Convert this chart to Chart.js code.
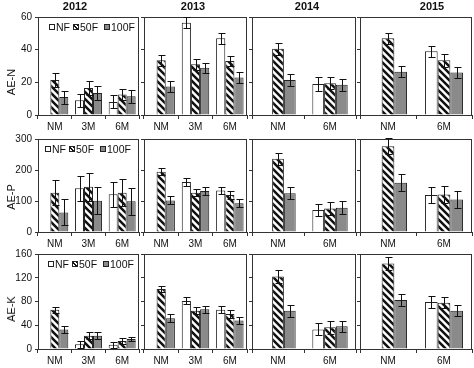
<!DOCTYPE html>
<html>
<head>
<meta charset="utf-8">
<script src="https://cdn.jsdelivr.net/npm/chart.js@4.4.0/dist/chart.umd.min.js"></script>
<style>
  body { margin: 0; background: #fff; width: 474px; height: 368px; position: relative; overflow: hidden;
         font-family: "Liberation Sans", Arial, sans-serif; color: #111; }
  canvas { position: absolute; }
  .yr { position: absolute; top: 0; font-weight: bold; font-size: 11px; transform: translateX(-50%); }
  .yt { position: absolute; font-size: 11px; white-space: nowrap; transform: translate(-50%, -50%) rotate(-90deg); }
  .lg { position: absolute; font-size: 10.5px; line-height: 11px; white-space: nowrap; }
  .sw { display: inline-block; width: 4px; height: 4px; border: 1px solid #222; margin-right: 1px; vertical-align: 1px; }
</style>
</head>
<body>
<script>
const years = ['2012', '2013', '2014', '2015']
const rowNames = ['AE-N', 'AE-P', 'AE-K']
const cats3 = ['NM', '3M', '6M']
const cats2 = ['NM', '6M']
const yearCats = [cats3, cats3, cats2, cats2]
const series = ['NF', '50F', '100F']

// AE-N, one inner list per year
const N_NF   = [[null, 9, 8], [null, 56.5, 47], [null, 19], [null, 39]]
const N_50F  = [[21.5, 16.5, 12.5], [33.5, 31, 33], [40.5, 19.5], [47, 33.5]]
const N_100F = [[11, 13.5, 11.5], [17.5, 29, 23], [21.5, 18.5], [26.5, 26]]
const N_NF_err   = [[0, 4, 4], [0, 3.5, 3.5], [0, 4], [0, 3.5]]
const N_50F_err  = [[4.5, 4.5, 3.5], [3.5, 3.5, 3], [3.5, 3.5], [3.5, 4]]
const N_100F_err = [[4, 4.5, 4], [3.5, 3, 3.5], [3.5, 3.5], [3.5, 3.5]]

// AE-P
const P_NF   = [[null, 141, 122], [null, 161, 134], [null, 71], [null, 119]]
const P_50F  = [[127, 146, 127], [194, 127, 119], [236, 76], [277, 121]]
const P_100F = [[63, 101, 99], [102, 132, 93], [125, 78], [159, 105]]
const P_NF_err   = [[0, 41, 40], [0, 12, 12], [0, 19], [0, 27]]
const P_50F_err  = [[41, 45, 43], [11, 11, 13], [20, 20], [25, 26]]
const P_100F_err = [[42, 43, 43], [13, 12, 13], [19, 21], [28, 27]]

// AE-K
const K_NF   = [[null, 8, 7], [null, 81, 66], [null, 33], [null, 79]]
const K_50F  = [[66, 22.5, 13.5], [101, 64.5, 59], [122, 36.5], [144, 78]]
const K_100F = [[33, 22.5, 17], [52, 67, 48], [64.5, 38.5], [82.5, 64.5]]
const K_NF_err   = [[0, 6, 5], [0, 6, 6], [0, 10], [0, 10]]
const K_50F_err  = [[5.5, 5.5, 5], [5.5, 5.5, 6], [11, 11], [10.5, 9]]
const K_100F_err = [[5.5, 5.5, 4], [6.5, 6, 5.5], [10, 9.5], [10, 9.5]]

const yMax = [60, 300, 160]
const yStep = [20, 100, 40]

const rows = [
  [N_NF, N_50F, N_100F, N_NF_err, N_50F_err, N_100F_err],
  [P_NF, P_50F, P_100F, P_NF_err, P_50F_err, P_100F_err],
  [K_NF, K_50F, K_100F, K_NF_err, K_50F_err, K_100F_err]
]

// panel plot boxes in page pixels
const colL = [38, 144, 252, 360]
const colR = [139, 247, 356, 472]
const rowT = [17, 139, 254]
const rowB = [115, 232, 349]

Chart.defaults.font.family = '"Liberation Sans", Arial, sans-serif'
Chart.defaults.color = '#111'

function hatch() {
  let c = document.createElement('canvas')
  c.width = 7; c.height = 7
  let g = c.getContext('2d')
  g.fillStyle = '#fff'
  g.fillRect(0, 0, 7, 7)
  g.strokeStyle = '#111'
  g.lineWidth = 2.5
  g.beginPath()
  g.moveTo(-2, -2); g.lineTo(9, 9)
  g.moveTo(-2, 5); g.lineTo(2, 9)
  g.moveTo(5, -2); g.lineTo(9, 2)
  g.stroke()
  return g.createPattern(c, 'repeat')
}
const hatchFill = hatch()
const fills = ['#fff', hatchFill, '#8a8a8a']

const frame = {
  id: 'frame',
  beforeDatasetsDraw(chart) {
    let a = chart.chartArea, ctx = chart.ctx
    ctx.save()
    ctx.strokeStyle = '#333'
    ctx.lineWidth = 1
    ctx.strokeRect(Math.round(a.left) + 0.5, Math.round(a.top) + 0.5,
      Math.round(a.right - a.left) - 1, Math.round(a.bottom - a.top))
    ctx.restore()
  }
}

const errorBars = {
  id: 'errorBars',
  afterDatasetsDraw(chart) {
    let ctx = chart.ctx, y = chart.scales.y
    ctx.save()
    ctx.strokeStyle = '#111'
    ctx.lineWidth = 1
    chart.data.datasets.forEach((ds, i) => {
      chart.getDatasetMeta(i).data.forEach((bar, j) => {
        let v = ds.data[j], e = ds.errors[j]
        if (v == null || !e) return
        let x = Math.round(bar.x) + 0.5
        let top = Math.round(y.getPixelForValue(v + e)) + 0.5
        let bot = Math.round(y.getPixelForValue(v - e)) + 0.5
        ctx.beginPath()
        ctx.moveTo(x, top); ctx.lineTo(x, bot)
        ctx.moveTo(x - 3, top); ctx.lineTo(x + 4, top)
        ctx.moveTo(x - 3, bot); ctx.lineTo(x + 4, bot)
        ctx.stroke()
      })
    })
    ctx.restore()
  }
}

const padTop = 10, padRight = 2, xAxisH = 18

for (let r = 0; r < 3; r++) {
  for (let c = 0; c < 4; c++) {
    let yAxisW = c == 0 ? 38 : 5
    let cv = document.createElement('canvas')
    cv.width = yAxisW + (colR[c] - colL[c]) + padRight
    cv.height = padTop + (rowB[r] - rowT[r]) + xAxisH
    cv.style.left = (colL[c] - yAxisW) + 'px'
    cv.style.top = (rowT[r] - padTop) + 'px'
    document.body.appendChild(cv)

    let d = rows[r]
    let datasets = series.map((s, k) => ({
      label: s,
      data: d[k][c],
      errors: d[k + 3][c],
      backgroundColor: fills[k],
      borderColor: '#222',
      borderWidth: 1
    }))

    new Chart(cv, {
      type: 'bar',
      data: { labels: yearCats[c], datasets: datasets },
      options: {
        responsive: false,
        animation: false,
        events: [],
        layout: { padding: { top: padTop, right: padRight, left: 0, bottom: 0 } },
        datasets: { bar: { categoryPercentage: c < 2 ? 0.8 : 0.68, barPercentage: 1 } },
        plugins: { legend: { display: false }, tooltip: { enabled: false } },
        scales: {
          x: {
            offset: true,
            grid: { offset: true, drawOnChartArea: false, tickLength: 4, color: '#333' },
            border: { color: '#333' },
            ticks: { font: { size: 10 }, padding: 2, maxRotation: 0 },
            afterFit: s => { s.height = xAxisH }
          },
          y: {
            min: 0,
            max: yMax[r],
            grid: { drawOnChartArea: false, tickLength: 3, color: '#333' },
            border: { color: '#333' },
            ticks: { display: c == 0, stepSize: yStep[r], font: { size: 10 }, padding: 3 },
            afterFit: s => { s.width = yAxisW }
          }
        }
      },
      plugins: [frame, errorBars]
    })
  }
}

// year titles
const titleX = [75, 193, 307, 432]
years.forEach((y, i) => {
  let el = document.createElement('div')
  el.className = 'yr'
  el.style.left = titleX[i] + 'px'
  el.textContent = y
  document.body.appendChild(el)
})

// row titles
const rowTitleY = [82, 197, 309]
rowNames.forEach((n, i) => {
  let el = document.createElement('div')
  el.className = 'yt'
  el.style.left = '11px'
  el.style.top = rowTitleY[i] + 'px'
  el.textContent = n
  document.body.appendChild(el)
})

// legends inside the first panel of each row
const legendX = [49, 45, 48]
const legendY = [22, 144, 259]
const itemDX = [0, 24, 55]
const swatchCss = ['#fff', 'repeating-linear-gradient(45deg, #fff 0 1.5px, #111 1.5px 3.2px)', '#8a8a8a']
for (let r = 0; r < 3; r++) {
  series.forEach((s, k) => {
    let el = document.createElement('div')
    el.className = 'lg'
    el.style.left = (legendX[r] + itemDX[k]) + 'px'
    el.style.top = legendY[r] + 'px'
    let sw = document.createElement('span')
    sw.className = 'sw'
    sw.style.background = swatchCss[k]
    el.appendChild(sw)
    el.appendChild(document.createTextNode(s))
    document.body.appendChild(el)
  })
}
</script>
</body>
</html>
